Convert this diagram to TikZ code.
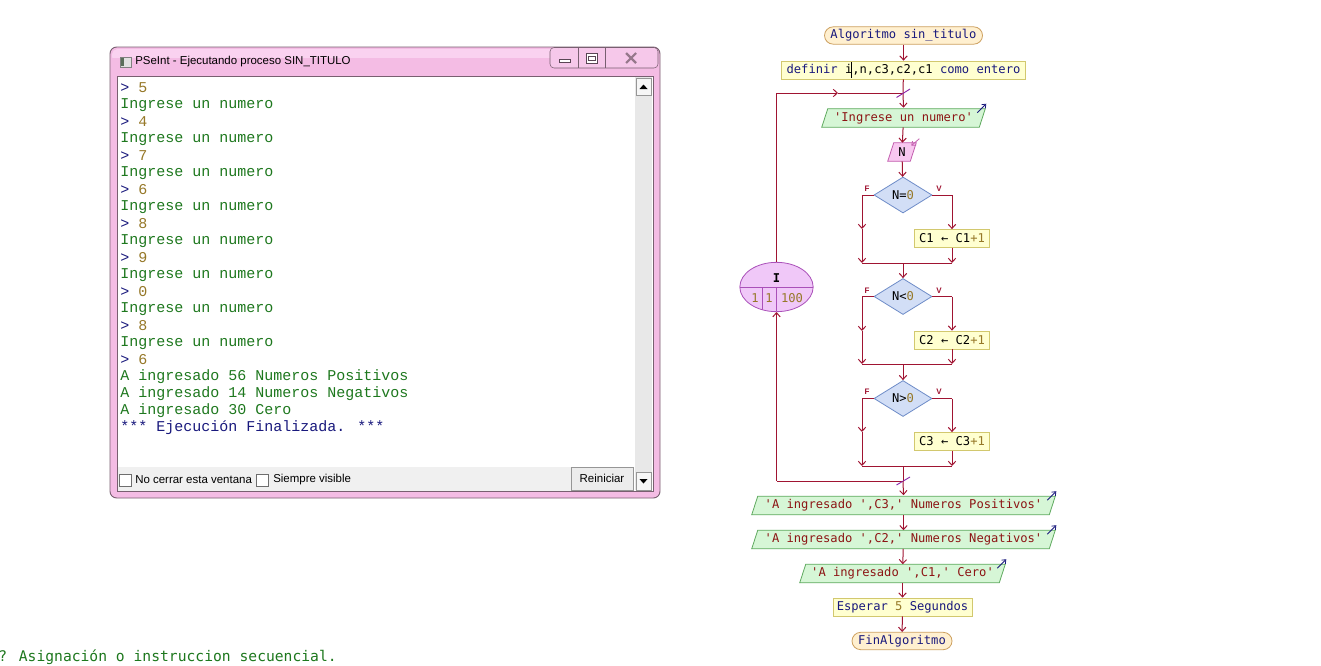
\documentclass[tikz,border=0pt]{standalone}
\usepackage{fontspec}
\setmainfont{Liberation Sans}
\newfontfamily\conmono{Liberation Mono}
\newfontfamily\flmono{DejaVu Sans Mono}
\usetikzlibrary{arrows.meta,calc,backgrounds,shapes.geometric}
\definecolor{frame}{RGB}{244,188,228}
\definecolor{frametop}{RGB}{250,210,240}
\definecolor{framedark}{RGB}{120,95,112}
\definecolor{cgreen}{RGB}{30,120,30}
\definecolor{colive}{RGB}{150,120,40}
\definecolor{cnavy}{RGB}{25,25,125}
\definecolor{fline}{RGB}{160,20,50}
\definecolor{startfill}{RGB}{255,240,208}
\definecolor{startbd}{RGB}{205,160,95}
\definecolor{procfill}{RGB}{255,255,208}
\definecolor{procbd}{RGB}{210,200,110}
\definecolor{outfill}{RGB}{214,246,214}
\definecolor{outbd}{RGB}{95,170,95}
\definecolor{outred}{RGB}{140,20,20}
\definecolor{infill}{RGB}{248,200,240}
\definecolor{inbd}{RGB}{195,95,175}
\definecolor{decfill}{RGB}{210,222,246}
\definecolor{decbd}{RGB}{110,140,200}
\definecolor{ellfill}{RGB}{240,200,248}
\definecolor{ellbd}{RGB}{170,80,185}
\definecolor{slashc}{RGB}{140,40,170}
\definecolor{barbg}{RGB}{240,240,240}
\definecolor{btnbd}{RGB}{150,150,150}
\definecolor{iconfill}{RGB}{225,225,225}
\definecolor{icondark}{RGB}{90,110,90}
\definecolor{titlebtn}{RGB}{246,200,234}
\definecolor{glyph}{RGB}{90,70,85}
\definecolor{closec}{RGB}{150,120,140}
\definecolor{track}{RGB}{232,232,232}
\definecolor{btnfill}{RGB}{246,246,246}
\definecolor{cboxbd}{RGB}{110,110,110}
\definecolor{reifill}{RGB}{236,236,236}
\tikzset{
 con/.style={anchor=west, inner sep=0pt, font=\conmono\fontsize{11.25}{12}\selectfont},
 ui/.style={anchor=west, inner sep=0pt, font=\fontsize{8.6}{10}\selectfont},
 fl/.style={font=\flmono\fontsize{9.1}{11}\selectfont, inner sep=0pt},
 startbox/.style={fl, draw=startbd, fill=startfill, rounded corners=6.5pt, minimum height=13pt, line width=0.6pt, text=cnavy},
 procbox/.style={fl, draw=procbd, fill=procfill, minimum height=13.5pt, line width=0.6pt},
 outtext/.style={fl, minimum height=13.5pt, text=outred},
 outshape/.style={draw=outbd, fill=outfill, line width=0.6pt},
 inshape/.style={draw=inbd, fill=infill, line width=0.6pt},
 decbox/.style={fl, diamond, draw=decbd, fill=decfill, minimum width=43.5pt, minimum height=27pt, line width=0.6pt},
 flow/.style={draw=fline, line width=0.75pt},
 arr/.style={flow, -{Straight Barb[length=3pt,width=5.5pt]}},
 fv/.style={inner sep=0pt, text=fline, font=\fontsize{6}{7}\selectfont\bfseries},
 slash/.style={draw=slashc, line width=0.7pt},
 outarrow/.style={draw=cnavy, line width=0.6pt, -{Straight Barb[length=2.5pt,width=4pt]}},
}
\begin{document}
\begin{tikzpicture}[x=0.75pt,y=-0.75pt]
\useasboundingbox (0,0) rectangle (1321,665);
\begin{scope}[on background layer]
\fill[white] (0,0) rectangle (1321,665);
\end{scope}

% ---------------- Console window ----------------
\draw[framedark, fill=frame, rounded corners=5pt, line width=0.7pt] (110,47) rectangle (660,498);
\fill[frametop, rounded corners=4pt] (112,49) rectangle (658,62);
\fill[frame] (112,58) rectangle (658,74);
% icon
\draw[gray, fill=iconfill] (120,57) rectangle (131,67);
\fill[icondark] (121,58) rectangle (124,66);
\node[ui] (title) at (135,62) {PSeInt - Ejecutando proceso SIN\_TITULO};
% title buttons
\draw[framedark, fill=titlebtn, rounded corners=3pt] (550,47.5) rectangle (658,68);
\draw[framedark] (578,48) -- (578,68);
\draw[framedark] (605,48) -- (605,68);
\draw[glyph, fill=white] (559,59) rectangle (570,62);
\draw[glyph, fill=white] (586,53) rectangle (597,63);
\draw[glyph] (588,56) rectangle (595,60);
\draw[closec, line width=1.6pt] (626,53) -- (636,63);
\draw[closec, line width=1.6pt] (626,63) -- (636,53);
% client area
\draw[framedark, fill=white, line width=0.6pt] (117,76) rectangle (653,491);
% scrollbar
\fill[track] (635,77) rectangle (652,490);
\draw[btnbd, fill=btnfill] (636,78) rectangle (651,95);
\fill[black] (639.5,89) -- (647.5,89) -- (643.5,84.5) -- cycle;
\draw[btnbd, fill=btnfill] (636,472) rectangle (651,490);
\fill[black] (639.5,479) -- (647.5,479) -- (643.5,483.5) -- cycle;
% bottom bar
\fill[barbg] (118,467) rectangle (634,490.5);
\draw[cboxbd, fill=white] (119,474) rectangle (131,486);
\node[ui] (nocerrar) at (135,480) {No cerrar esta ventana};
\draw[cboxbd, fill=white] (256,474) rectangle (268,486);
\node[ui] (siempre) at (273,480) {Siempre visible};
\draw[btnbd, fill=reifill] (571,467) rectangle (633,490);
\node[inner sep=0pt, font=\fontsize{8.6}{10}\selectfont] (reiniciar) at (602,478.5) {Reiniciar};

% console text
\node[con] (l1) at (120,88) {\textcolor{cnavy}{>} \textcolor{colive}{5}};
\node[con, text=cgreen] (l2) at (120,105) {Ingrese un numero};
\node[con] (l3) at (120,122) {\textcolor{cnavy}{>} \textcolor{colive}{4}};
\node[con, text=cgreen] (l4) at (120,139) {Ingrese un numero};
\node[con] (l5) at (120,156) {\textcolor{cnavy}{>} \textcolor{colive}{7}};
\node[con, text=cgreen] (l6) at (120,173) {Ingrese un numero};
\node[con] (l7) at (120,190) {\textcolor{cnavy}{>} \textcolor{colive}{6}};
\node[con, text=cgreen] (l8) at (120,207) {Ingrese un numero};
\node[con] (l9) at (120,224) {\textcolor{cnavy}{>} \textcolor{colive}{8}};
\node[con, text=cgreen] (l10) at (120,241) {Ingrese un numero};
\node[con] (l11) at (120,258) {\textcolor{cnavy}{>} \textcolor{colive}{9}};
\node[con, text=cgreen] (l12) at (120,275) {Ingrese un numero};
\node[con] (l13) at (120,292) {\textcolor{cnavy}{>} \textcolor{colive}{0}};
\node[con, text=cgreen] (l14) at (120,309) {Ingrese un numero};
\node[con] (l15) at (120,326) {\textcolor{cnavy}{>} \textcolor{colive}{8}};
\node[con, text=cgreen] (l16) at (120,343) {Ingrese un numero};
\node[con] (l17) at (120,360) {\textcolor{cnavy}{>} \textcolor{colive}{6}};
\node[con, text=cgreen] (l18) at (120,377) {A ingresado 56 Numeros Positivos};
\node[con, text=cgreen] (l19) at (120,394) {A ingresado 14 Numeros Negativos};
\node[con, text=cgreen] (l20) at (120,411) {A ingresado 30 Cero};
\node[con, text=cnavy] (l21) at (120,428) {*** Ejecución Finalizada. ***};

% ---------------- Flowchart ----------------
\node[startbox, minimum width=118.5pt] (start) at (903.5,35.5) {Algoritmo sin\_titulo};
\node[procbox, minimum width=183pt] (def) at (903.5,70) {\textcolor{cnavy}{definir} i,n,c3,c2,c1 \textcolor{cnavy}{como entero}};
\draw[black, line width=0.6pt] (851,62) -- (851,78);

\node[outtext, minimum width=117.75pt] (o1) at (903.5,118) {'Ingrese un numero'};
\node[fl, minimum width=16.5pt, minimum height=13.5pt] (inN) at (902,152) {N};
\node[decbox] (d1) at (903,195) {N=\textcolor{colive}{0}};
\node[procbox, minimum width=56pt] (c1box) at (952,238.5) {C1 ← C1\textcolor{colive}{+1}};
\node[decbox] (d2) at (903,296.5) {N<\textcolor{colive}{0}};
\node[procbox, minimum width=56pt] (c2box) at (952,340) {C2 ← C2\textcolor{colive}{+1}};
\node[decbox] (d3) at (903,398.5) {N>\textcolor{colive}{0}};
\node[procbox, minimum width=56pt] (c3box) at (952,441.5) {C3 ← C3\textcolor{colive}{+1}};

\node[outtext, minimum width=222.75pt] (o2) at (903.5,505.5) {'A ingresado ',C3,' Numeros Positivos'};
\node[outtext, minimum width=222.75pt] (o3) at (903.5,539.5) {'A ingresado ',C2,' Numeros Negativos'};
\node[outtext, minimum width=149.25pt] (o4) at (902.5,573.5) {'A ingresado ',C1,' Cero'};
\node[procbox, minimum width=104.25pt, text=cnavy] (esp) at (902.5,607) {Esperar \textcolor{colive}{5} Segundos};
\node[startbox, minimum width=75pt] (fin) at (902,641) {FinAlgoritmo};

% loop ellipse
\node[ellipse, draw=ellbd, fill=ellfill, minimum width=55pt, minimum height=37pt, inner sep=0pt, line width=0.6pt] (loopE) at (776.5,287) {};
\begin{scope}
\clip (776.5,287) ellipse [x radius=36.5, y radius=24.5];
\draw[ellbd, line width=0.6pt] (735,287) -- (818,287);
\draw[ellbd, line width=0.6pt] (762,287) -- (762,320);
\draw[ellbd, line width=0.6pt] (776,287) -- (776,320);
\end{scope}
\node[fl, font=\flmono\bfseries\fontsize{9.1}{11}\selectfont] (lvar) at (776.5,278.5) {I};
\node[fl, text=colive] (lini) at (755,298) {1};
\node[fl, text=colive] (lstep) at (769,298) {1};
\node[fl, text=colive] (lend) at (792,298) {100};

% parallelogram outlines
\begin{scope}[on background layer]
\foreach \n in {o1,o2,o3,o4}{
 \filldraw[outshape] ($(\n.south west)+(-3,0)$) -- ($(\n.north west)+(3,0)$) -- ($(\n.north east)+(3,0)$) -- ($(\n.south east)+(-3,0)$) -- cycle;
}
\filldraw[inshape] ($(inN.south west)+(-3,0)$) -- ($(inN.north west)+(3,0)$) -- ($(inN.north east)+(3,0)$) -- ($(inN.south east)+(-3,0)$) -- cycle;
\end{scope}

% small output arrows
\foreach \n in {o1,o2,o3,o4}{
 \draw[outarrow] ($(\n.north east)+(-5,4)$) -- ($(\n.north east)+(4,-5)$);
}
\draw[draw=inbd, line width=0.6pt, -{Straight Barb[length=2.5pt,width=4pt]}] ($(inN.north east)+(6,-4)$) -- ($(inN.north east)+(-2,3)$);

% coordinates
\coordinate (j1) at (903,93);
\coordinate (lt) at (776.5,93);
\coordinate (lm) at (838,93);
\coordinate (j2) at (903,481);
\coordinate (lb) at (776.5,481);
\coordinate (d1l) at (862,195);
\coordinate (d1lm) at (862,229);
\coordinate (m1l) at (862,263);
\coordinate (d1r) at (952,195);
\coordinate (m1r) at (952,263);
\coordinate (m1) at (903,263);
\coordinate (d2l) at (862,296.5);
\coordinate (d2lm) at (862,331);
\coordinate (m2l) at (862,364);
\coordinate (d2r) at (952,296.5);
\coordinate (m2r) at (952,364);
\coordinate (m2) at (903,364);
\coordinate (d3l) at (862,398.5);
\coordinate (d3lm) at (862,432);
\coordinate (m3l) at (862,466);
\coordinate (d3r) at (952,398.5);
\coordinate (m3r) at (952,466);
\coordinate (m3) at (903,466);

% connectors
\draw[arr] (start) -- (def);
\draw[flow] (def) -- (j1);
\draw[arr] (j1) -- ($(o1.north)+(0,-1)$);
\draw[arr] (o1) -- (inN);
\draw[arr] (inN) -- (d1);

\draw[flow] (d1.west) -- (d1l);
\draw[arr] (d1l) -- (d1lm);
\draw[arr] (d1lm) -- (m1l);
\draw[flow] (d1.east) -- (d1r);
\draw[arr] (d1r) -- (c1box.north);
\draw[arr] (c1box.south) -- (m1r);
\draw[flow] (m1l) -- (m1r);
\draw[arr] (m1) -- (d2);

\draw[flow] (d2.west) -- (d2l);
\draw[arr] (d2l) -- (d2lm);
\draw[arr] (d2lm) -- (m2l);
\draw[flow] (d2.east) -- (d2r);
\draw[arr] (d2r) -- (c2box.north);
\draw[arr] (c2box.south) -- (m2r);
\draw[flow] (m2l) -- (m2r);
\draw[arr] (m2) -- (d3);

\draw[flow] (d3.west) -- (d3l);
\draw[arr] (d3l) -- (d3lm);
\draw[arr] (d3lm) -- (m3l);
\draw[flow] (d3.east) -- (d3r);
\draw[arr] (d3r) -- (c3box.north);
\draw[arr] (c3box.south) -- (m3r);
\draw[flow] (m3l) -- (m3r);
\draw[flow] (m3) -- (j2);

% loop
\draw[flow] (loopE.north) -- (lt);
\draw[arr] (lt) -- (lm);
\draw[flow] (lm) -- (j1);
\draw[flow] (j2) -- (lb);
\draw[arr] (lb) -- (loopE.south);
\draw[slash] (896.5,97.5) -- (910,89);
\draw[slash] (896.5,485) -- (910,477);

\draw[arr] (j2) -- ($(o2.north)+(0,-1)$);
\draw[arr] (o2) -- (o3);
\draw[arr] (o3) -- (o4);
\draw[arr] (o4) -- (esp);
\draw[arr] (esp) -- (fin);

% F / V labels
\node[fv] (f1) at (867,189) {F};
\node[fv] (v1) at (939,189) {V};
\node[fv] (f2) at (867,290.5) {F};
\node[fv] (v2) at (939,290.5) {V};
\node[fv] (f3) at (867,392) {F};
\node[fv] (v3) at (939,392) {V};

% status text
\node[anchor=west, inner sep=0pt, font=\flmono\fontsize{11}{12}\selectfont, text=cgreen] (status) at (-2,657) {? Asignación o instruccion secuencial.};
\end{tikzpicture}
\end{document}
